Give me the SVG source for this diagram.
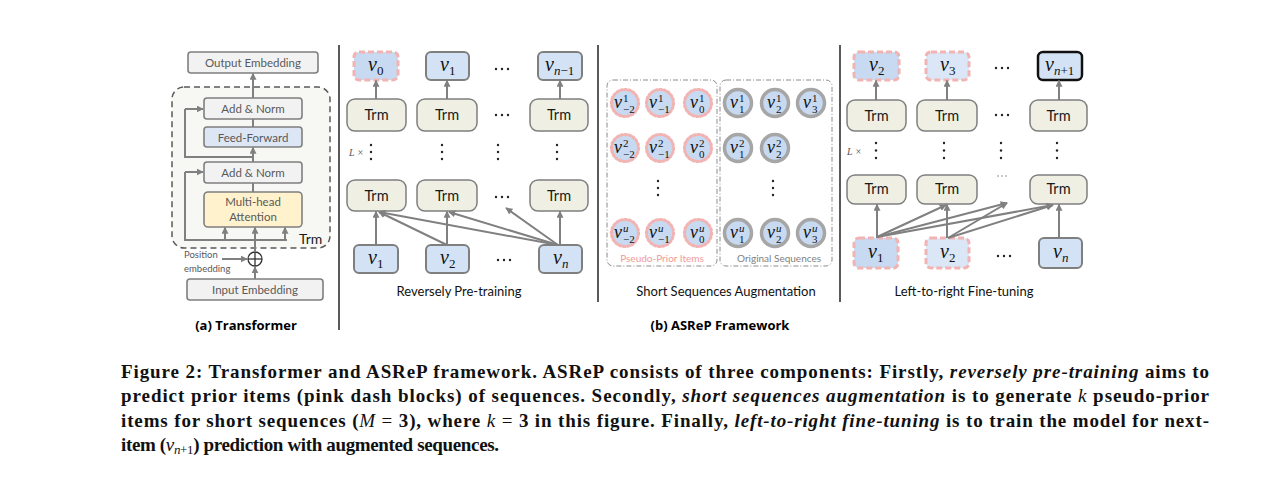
<svg xmlns="http://www.w3.org/2000/svg" width="1275" height="479" viewBox="0 0 1275 479">
<style>
.bg{fill:#ffffff}
.sep{stroke:#000;stroke-width:1.3}
.gbox{fill:#f2f2f2;stroke:#7f7f7f;stroke-width:1.6}
.ff{fill:#dce6f4;stroke:#7f7f7f;stroke-width:1.6}
.mha{fill:#fff2cc;stroke:#7f7f7f;stroke-width:1.6}
.tlab{font-family:Lato,"Liberation Sans",sans-serif;font-size:11.5px;fill:#595959;text-anchor:middle}
.trm{fill:#eff0e3;stroke:#7f7f7f;stroke-width:1.5}
.trmt{font-family:Lato,"Liberation Sans",sans-serif;font-size:14.5px;fill:#1a1a1a;text-anchor:middle}
.item{fill:#d3e3f5;stroke:#7f7f7f;stroke-width:2}
.pink{fill:#c7daf1;stroke:#f2b3b3;stroke-width:3;stroke-dasharray:6 3}
.pinkl{fill:#dbe7f6;stroke:#f2b3b3;stroke-width:3;stroke-dasharray:6 3}
.blk{fill:#d3e3f5;stroke:#111;stroke-width:2.5}
.ln{stroke:#808080;stroke-width:2;fill:none}
.lna{stroke:#808080;stroke-width:2;fill:none;marker-end:url(#ah)}
.v{font-family:"Liberation Serif",serif;font-style:italic;font-size:20px;fill:#111}
.sub{font-size:13px}
.cv{font-family:"Liberation Serif",serif;font-style:italic;font-size:18px;fill:#111}
.cs{font-family:"Liberation Serif",serif;font-size:11px;fill:#111}
.dot{fill:#222}
.pc{fill:#c7daf1;stroke:#f2b3b3;stroke-width:3.2;stroke-dasharray:1.6 2.6;stroke-linecap:round}
.oc{fill:#c7daf1;stroke:#a6a6a6;stroke-width:3.5}
.dd{fill:none;stroke:#8c8c8c;stroke-width:1;stroke-dasharray:5 2 1 2}
.plab{font-family:Lato,"Liberation Sans",sans-serif;font-size:13px;fill:#111;text-anchor:middle}
.cap{font-family:"Liberation Serif",serif;font-weight:bold;font-size:19px;fill:#111}
.m{font-style:italic;font-weight:normal}
</style>
<defs>
<marker id="ah" viewBox="0 0 10 10" refX="9" refY="5" markerWidth="3.5" markerHeight="3.5" orient="auto"><path d="M0,0 L10,5 L0,10 z" fill="#808080"/></marker>
</defs>
<rect class="bg" x="0" y="0" width="1275" height="479"/>

<g id="separators">
<line class="sep" x1="339" y1="45" x2="339" y2="330"/>
<line class="sep" x1="598" y1="45" x2="598" y2="302"/>
<line class="sep" x1="840" y1="45" x2="840" y2="302"/>
</g>

<!-- (a) Transformer -->
<g id="transformer">
<rect x="172" y="87" width="158" height="161" rx="12" fill="#f7f7f4" stroke="#595959" stroke-width="1.5" stroke-dasharray="6 4"/>
<g id="output-embedding"><rect class="gbox" x="188" y="52" width="130" height="21" rx="3"/><text class="tlab" x="253" y="67">Output Embedding</text></g>
<g id="add-norm-2"><rect class="gbox" x="204" y="98" width="98" height="21" rx="3"/><text class="tlab" x="253" y="113">Add &amp; Norm</text></g>
<g id="feed-forward"><rect class="ff" x="204" y="127" width="98" height="20" rx="3"/><text class="tlab" x="253" y="141.5">Feed-Forward</text></g>
<g id="add-norm-1"><rect class="gbox" x="204" y="162" width="98" height="21" rx="3"/><text class="tlab" x="253" y="177">Add &amp; Norm</text></g>
<g id="multi-head"><rect class="mha" x="204" y="192" width="98" height="35" rx="4"/><text class="tlab" x="253" y="206">Multi-head</text><text class="tlab" x="253" y="221">Attention</text></g>
<text x="299" y="244" font-family="Lato,'Liberation Sans',sans-serif" font-size="14" fill="#1a1a1a">Trm</text>
<g id="pos-add"><circle cx="255" cy="259" r="7" fill="#fff" stroke="#333" stroke-width="1.3"/><line x1="248" y1="259" x2="262" y2="259" stroke="#333" stroke-width="1.3"/><line x1="255" y1="252" x2="255" y2="266" stroke="#333" stroke-width="1.3"/></g>
<text x="184" y="258" font-family="Lato,'Liberation Sans',sans-serif" font-size="9.5" fill="#595959">Position</text>
<text x="184" y="272" font-family="Lato,'Liberation Sans',sans-serif" font-size="9.5" fill="#595959">embedding</text>
<g id="input-embedding"><rect class="gbox" x="187" y="279" width="136" height="21" rx="3"/><text class="tlab" x="255" y="294">Input Embedding</text></g>
<text x="246" y="330" font-family="'Open Sans','Liberation Sans',sans-serif" font-weight="bold" font-size="13" fill="#000" text-anchor="middle">(a) Transformer</text>
</g>
<g id="transformer-connectors">
<line class="lna" x1="255" y1="279" x2="255" y2="267"/>
<line class="lna" x1="222" y1="259" x2="247" y2="259"/>
<line class="lna" x1="255" y1="252" x2="255" y2="227.5"/>
<polyline class="ln" points="185,172 185,240 287,240"/>
<line class="lna" x1="225" y1="240" x2="225" y2="227.5"/>
<line class="lna" x1="285" y1="240" x2="285" y2="227.5"/>
<line class="lna" x1="185" y1="172" x2="203" y2="172"/>
<line class="ln" x1="253" y1="192" x2="253" y2="183"/>
<line class="lna" x1="253" y1="162" x2="253" y2="147.5"/>
<polyline class="ln" points="253,157 185,157 185,109"/>
<line class="lna" x1="185" y1="109" x2="203" y2="109"/>
<line class="ln" x1="253" y1="127" x2="253" y2="119"/>
<line class="lna" x1="253" y1="98" x2="253" y2="73.5"/>
</g>

<!-- Reversely Pre-training -->
<g id="rp-out-v0"><rect class="pink" x="354" y="52" width="44" height="28" rx="5"/><text class="v" x="368" y="71">v<tspan class="sub" dy="4" font-style="normal">0</tspan></text></g>
<g id="rp-out-v1"><rect class="item" x="426" y="52" width="43" height="28" rx="5"/><text class="v" x="440" y="71">v<tspan class="sub" dy="4" font-style="normal">1</tspan></text></g>
<g id="rp-out-vn-1"><rect class="item" x="538" y="52" width="44" height="28" rx="5"/><text class="v" x="545" y="71">v<tspan class="sub" dy="4">n</tspan><tspan class="sub" font-style="normal">−1</tspan></text></g>
<g id="rp-trm-1a"><rect class="trm" x="347" y="99" width="59" height="32" rx="8"/><text class="trmt" x="376.5" y="120">Trm</text></g>
<g id="rp-trm-2a"><rect class="trm" x="417" y="99" width="60" height="32" rx="8"/><text class="trmt" x="447" y="120">Trm</text></g>
<g id="rp-trm-3a"><rect class="trm" x="530" y="99" width="58" height="32" rx="8"/><text class="trmt" x="559" y="120">Trm</text></g>
<g id="rp-trm-1b"><rect class="trm" x="347" y="180" width="59" height="31" rx="8"/><text class="trmt" x="376.5" y="200.5">Trm</text></g>
<g id="rp-trm-2b"><rect class="trm" x="417" y="180" width="60" height="31" rx="8"/><text class="trmt" x="447" y="200.5">Trm</text></g>
<g id="rp-trm-3b"><rect class="trm" x="530" y="180" width="58" height="31" rx="8"/><text class="trmt" x="559" y="200.5">Trm</text></g>
<g id="rp-in-v1"><rect class="item" x="354" y="245" width="44" height="28" rx="5"/><text class="v" x="368" y="264">v<tspan class="sub" dy="4" font-style="normal">1</tspan></text></g>
<g id="rp-in-v2"><rect class="item" x="426" y="245" width="43" height="28" rx="5"/><text class="v" x="440" y="264">v<tspan class="sub" dy="4" font-style="normal">2</tspan></text></g>
<g id="rp-in-vn"><rect class="item" x="539" y="245" width="43" height="28" rx="5"/><text class="v" x="553" y="264">v<tspan class="sub" dy="4">n</tspan></text></g>
<g id="rp-dots" class="dot">
<circle cx="496" cy="69" r="1.2"/><circle cx="502" cy="69" r="1.2"/><circle cx="508" cy="69" r="1.2"/>
<circle cx="496" cy="115" r="1.2"/><circle cx="502" cy="115" r="1.2"/><circle cx="508" cy="115" r="1.2"/>
<circle cx="496" cy="197" r="1.2"/><circle cx="502" cy="197" r="1.2"/><circle cx="508" cy="197" r="1.2"/>
<circle cx="498" cy="260" r="1.2"/><circle cx="504" cy="260" r="1.2"/><circle cx="510" cy="260" r="1.2"/>
<circle cx="371" cy="145" r="1.2"/><circle cx="371" cy="152" r="1.2"/><circle cx="371" cy="159" r="1.2"/>
<circle cx="442" cy="145" r="1.2"/><circle cx="442" cy="152" r="1.2"/><circle cx="442" cy="159" r="1.2"/>
<circle cx="498" cy="145" r="1.2"/><circle cx="498" cy="152" r="1.2"/><circle cx="498" cy="159" r="1.2"/>
<circle cx="557" cy="145" r="1.2"/><circle cx="557" cy="152" r="1.2"/><circle cx="557" cy="159" r="1.2"/>
</g>
<text x="349" y="156" font-family="'Liberation Serif',serif" font-style="italic" font-size="10" fill="#555">L ×</text>
<text class="plab" x="459" y="296">Reversely Pre-training</text>

<!-- Short Sequences Augmentation -->
<g id="ssa-boxes">
<rect class="dd" x="607" y="80" width="110" height="186" rx="6"/>
<rect class="dd" x="720" y="80" width="112" height="186" rx="6"/>
</g>
<g id="ssa-p1-m2"><circle class="pc" cx="625" cy="103" r="13.5"/><text class="cv" x="614" y="108">v</text><text class="cs" x="623" y="102">1</text><text class="cs" x="623" y="113">−2</text></g>
<g id="ssa-p1-m1"><circle class="pc" cx="660" cy="103" r="13.5"/><text class="cv" x="649" y="108">v</text><text class="cs" x="658" y="102">1</text><text class="cs" x="658" y="113">−1</text></g>
<g id="ssa-p1-0"><circle class="pc" cx="698" cy="103" r="13.5"/><text class="cv" x="690" y="108">v</text><text class="cs" x="699" y="102">1</text><text class="cs" x="699" y="113">0</text></g>
<g id="ssa-o1-1"><circle class="oc" cx="738" cy="103" r="13.5"/><text class="cv" x="730" y="108">v</text><text class="cs" x="739" y="102">1</text><text class="cs" x="739" y="113">1</text></g>
<g id="ssa-o1-2"><circle class="oc" cx="775" cy="103" r="13.5"/><text class="cv" x="767" y="108">v</text><text class="cs" x="776" y="102">1</text><text class="cs" x="776" y="113">2</text></g>
<g id="ssa-o1-3"><circle class="oc" cx="811" cy="103" r="13.5"/><text class="cv" x="803" y="108">v</text><text class="cs" x="812" y="102">1</text><text class="cs" x="812" y="113">3</text></g>
<g id="ssa-p2-m2"><circle class="pc" cx="625" cy="148" r="13.5"/><text class="cv" x="614" y="153">v</text><text class="cs" x="623" y="147">2</text><text class="cs" x="623" y="158">−2</text></g>
<g id="ssa-p2-m1"><circle class="pc" cx="660" cy="148" r="13.5"/><text class="cv" x="649" y="153">v</text><text class="cs" x="658" y="147">2</text><text class="cs" x="658" y="158">−1</text></g>
<g id="ssa-p2-0"><circle class="pc" cx="698" cy="148" r="13.5"/><text class="cv" x="690" y="153">v</text><text class="cs" x="699" y="147">2</text><text class="cs" x="699" y="158">0</text></g>
<g id="ssa-o2-1"><circle class="oc" cx="738" cy="148" r="13.5"/><text class="cv" x="730" y="153">v</text><text class="cs" x="739" y="147">2</text><text class="cs" x="739" y="158">1</text></g>
<g id="ssa-o2-2"><circle class="oc" cx="775" cy="148" r="13.5"/><text class="cv" x="767" y="153">v</text><text class="cs" x="776" y="147">2</text><text class="cs" x="776" y="158">2</text></g>
<g id="ssa-pu-m2"><circle class="pc" cx="625" cy="233" r="13.5"/><text class="cv" x="614" y="238">v</text><text class="cs" x="623" y="232" font-style="italic">u</text><text class="cs" x="623" y="243">−2</text></g>
<g id="ssa-pu-m1"><circle class="pc" cx="660" cy="233" r="13.5"/><text class="cv" x="649" y="238">v</text><text class="cs" x="658" y="232" font-style="italic">u</text><text class="cs" x="658" y="243">−1</text></g>
<g id="ssa-pu-0"><circle class="pc" cx="698" cy="233" r="13.5"/><text class="cv" x="690" y="238">v</text><text class="cs" x="699" y="232" font-style="italic">u</text><text class="cs" x="699" y="243">0</text></g>
<g id="ssa-ou-1"><circle class="oc" cx="738" cy="233" r="13.5"/><text class="cv" x="730" y="238">v</text><text class="cs" x="739" y="232" font-style="italic">u</text><text class="cs" x="739" y="243">1</text></g>
<g id="ssa-ou-2"><circle class="oc" cx="775" cy="233" r="13.5"/><text class="cv" x="767" y="238">v</text><text class="cs" x="776" y="232" font-style="italic">u</text><text class="cs" x="776" y="243">2</text></g>
<g id="ssa-ou-3"><circle class="oc" cx="811" cy="233" r="13.5"/><text class="cv" x="803" y="238">v</text><text class="cs" x="812" y="232" font-style="italic">u</text><text class="cs" x="812" y="243">3</text></g>
<g class="dot">
<circle cx="658" cy="181" r="1.2"/><circle cx="658" cy="188" r="1.2"/><circle cx="658" cy="195" r="1.2"/>
<circle cx="773" cy="181" r="1.2"/><circle cx="773" cy="188" r="1.2"/><circle cx="773" cy="195" r="1.2"/>
</g>
<text x="662" y="262" font-family="Lato,'Liberation Sans',sans-serif" font-size="10" fill="#f09a9a" text-anchor="middle">Pseudo-Prior Items</text>
<text x="779" y="262" font-family="Lato,'Liberation Sans',sans-serif" font-size="10" fill="#7f7f7f" text-anchor="middle">Original Sequences</text>
<text class="plab" x="726" y="296">Short Sequences Augmentation</text>

<!-- Left-to-right Fine-tuning -->
<g id="ft-out-v2"><rect class="pink" x="854" y="52" width="45" height="28" rx="5"/><text class="v" x="869" y="71">v<tspan class="sub" dy="4" font-style="normal">2</tspan></text></g>
<g id="ft-out-v3"><rect class="pinkl" x="926" y="52" width="43" height="28" rx="5"/><text class="v" x="940" y="71">v<tspan class="sub" dy="4" font-style="normal">3</tspan></text></g>
<g id="ft-out-vn1"><rect class="blk" x="1038" y="52" width="44" height="28" rx="5"/><text class="v" x="1045" y="71">v<tspan class="sub" dy="4">n</tspan><tspan class="sub" font-style="normal">+1</tspan></text></g>
<g id="ft-trm-1a"><rect class="trm" x="847" y="100" width="59" height="31" rx="8"/><text class="trmt" x="876.5" y="120.5">Trm</text></g>
<g id="ft-trm-2a"><rect class="trm" x="917" y="100" width="60" height="31" rx="8"/><text class="trmt" x="947" y="120.5">Trm</text></g>
<g id="ft-trm-3a"><rect class="trm" x="1030" y="100" width="57" height="31" rx="8"/><text class="trmt" x="1058.5" y="120.5">Trm</text></g>
<g id="ft-trm-1b"><rect class="trm" x="847" y="175" width="59" height="29" rx="8"/><text class="trmt" x="876.5" y="194">Trm</text></g>
<g id="ft-trm-2b"><rect class="trm" x="917" y="175" width="60" height="29" rx="8"/><text class="trmt" x="947" y="194">Trm</text></g>
<g id="ft-trm-3b"><rect class="trm" x="1030" y="175" width="57" height="29" rx="8"/><text class="trmt" x="1058.5" y="194">Trm</text></g>
<g id="ft-in-v1"><rect class="pink" x="854" y="238" width="44" height="30" rx="5"/><text class="v" x="868" y="258">v<tspan class="sub" dy="4" font-style="normal">1</tspan></text></g>
<g id="ft-in-v2"><rect class="pinkl" x="926" y="238" width="43" height="30" rx="5"/><text class="v" x="940" y="258">v<tspan class="sub" dy="4" font-style="normal">2</tspan></text></g>
<g id="ft-in-vn"><rect class="item" x="1039" y="238" width="43" height="30" rx="5"/><text class="v" x="1053" y="258">v<tspan class="sub" dy="4">n</tspan></text></g>
<g class="dot">
<circle cx="996" cy="68" r="1.2"/><circle cx="1002" cy="68" r="1.2"/><circle cx="1008" cy="68" r="1.2"/>
<circle cx="996" cy="115" r="1.2"/><circle cx="1002" cy="115" r="1.2"/><circle cx="1008" cy="115" r="1.2"/>
<circle cx="998" cy="256" r="1.2"/><circle cx="1004" cy="256" r="1.2"/><circle cx="1010" cy="256" r="1.2"/>
<circle cx="876" cy="143" r="1.2"/><circle cx="876" cy="150.5" r="1.2"/><circle cx="876" cy="158" r="1.2"/>
<circle cx="944" cy="143" r="1.2"/><circle cx="944" cy="150.5" r="1.2"/><circle cx="944" cy="158" r="1.2"/>
<circle cx="1001" cy="143" r="1.2"/><circle cx="1001" cy="150.5" r="1.2"/><circle cx="1001" cy="158" r="1.2"/>
<circle cx="1057" cy="143" r="1.2"/><circle cx="1057" cy="150.5" r="1.2"/><circle cx="1057" cy="158" r="1.2"/>
</g>
<g fill="#666"><circle cx="998" cy="176" r="0.7"/><circle cx="1002" cy="176" r="0.7"/><circle cx="1006" cy="176" r="0.7"/></g>
<text x="847" y="155" font-family="'Liberation Serif',serif" font-style="italic" font-size="10" fill="#555">L ×</text>
<text class="plab" x="964" y="296">Left-to-right Fine-tuning</text>

<g id="connectors">
<line class="lna" x1="376" y1="99" x2="376" y2="80.5"/>
<line class="lna" x1="447" y1="99" x2="447" y2="80.5"/>
<line class="lna" x1="560" y1="99" x2="560" y2="80.5"/>
<line class="lna" x1="376" y1="245" x2="376" y2="211.5"/>
<line class="lna" x1="447" y1="245" x2="447" y2="211.5"/>
<line class="lna" x1="560" y1="245" x2="560" y2="211.5"/>
<line class="lna" x1="447" y1="245" x2="379" y2="212"/>
<line class="lna" x1="558" y1="245" x2="379" y2="212"/>
<line class="lna" x1="558" y1="245" x2="449" y2="212"/>
<line class="lna" x1="558" y1="245" x2="506" y2="208"/>
<line class="lna" x1="876" y1="100" x2="876" y2="80.5"/>
<line class="lna" x1="947" y1="100" x2="947" y2="80.5"/>
<line class="lna" x1="1059" y1="100" x2="1059" y2="80.5"/>
<line class="lna" x1="877" y1="238" x2="877" y2="204.5"/>
<line class="lna" x1="947" y1="238" x2="947" y2="204.5"/>
<line class="lna" x1="1059" y1="238" x2="1059" y2="204.5"/>
<line class="lna" x1="877" y1="237" x2="946" y2="205"/>
<line class="lna" x1="877" y1="237" x2="1007" y2="203"/>
<line class="lna" x1="877" y1="237" x2="1053" y2="205"/>
<line class="lna" x1="948" y1="238" x2="1007" y2="203"/>
<line class="lna" x1="948" y1="238" x2="1053" y2="205"/>
</g>

<text x="720" y="330" font-family="'Open Sans','Liberation Sans',sans-serif" font-weight="bold" font-size="13" fill="#000" text-anchor="middle">(b) ASReP Framework</text>

<g id="caption" class="cap">
<text x="121" y="378" textLength="1088" lengthAdjust="spacing">Figure 2: Transformer and ASReP framework. ASReP consists of three components: Firstly, <tspan font-style="italic">reversely pre-training</tspan> aims to</text>
<text x="121" y="402" textLength="1088" lengthAdjust="spacing">predict prior items (pink dash blocks) of sequences. Secondly, <tspan font-style="italic">short sequences augmentation</tspan> is to generate <tspan class="m">k</tspan> pseudo-prior</text>
<text x="121" y="427" textLength="1088" lengthAdjust="spacing">items for short sequences (<tspan class="m">M</tspan> <tspan font-weight="normal">=</tspan> 3), where <tspan class="m">k</tspan> <tspan font-weight="normal">=</tspan> 3 in this figure. Finally, <tspan font-style="italic">left-to-right fine-tuning</tspan> is to train the model for next-</text>
<text x="121" y="451" textLength="378" lengthAdjust="spacing">item (<tspan class="m">v</tspan><tspan class="m" font-size="13" dy="3">n</tspan><tspan font-size="13" font-weight="normal">+1</tspan><tspan dy="-3">) prediction with augmented sequences.</tspan></text>
</g>
</svg>
